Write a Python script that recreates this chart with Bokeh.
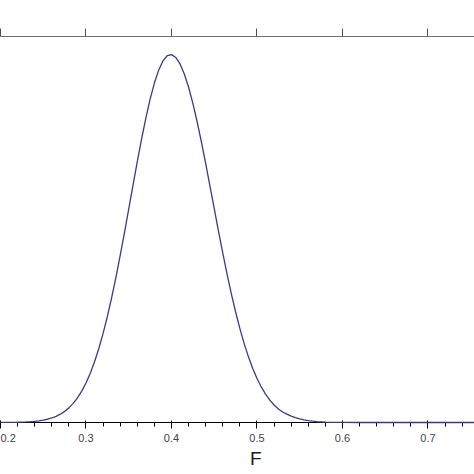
from bokeh.plotting import figure
from bokeh.models import LinearAxis, FixedTicker, Range1d, Title
from bokeh.embed import file_html
from bokeh.resources import INLINE

# values (arbitrary density units)
F_values = [0.20, 0.21, 0.22, 0.23, 0.235, 0.24, 0.245, 0.25, 0.255, 0.26,
            0.265, 0.27, 0.275, 0.28, 0.285, 0.29, 0.295, 0.30, 0.305, 0.31,
            0.315, 0.32, 0.325, 0.33, 0.335, 0.34, 0.345, 0.35, 0.355, 0.36,
            0.365, 0.37, 0.375, 0.38, 0.385, 0.39, 0.395, 0.40, 0.405, 0.41,
            0.415, 0.42, 0.425, 0.43, 0.435, 0.44, 0.445, 0.45, 0.455, 0.46,
            0.465, 0.47, 0.475, 0.48, 0.485, 0.49, 0.495, 0.50, 0.505, 0.51,
            0.515, 0.52, 0.525, 0.53, 0.535, 0.54, 0.545, 0.55, 0.555, 0.56,
            0.565, 0.57, 0.58, 0.59, 0.60, 0.62, 0.65, 0.70, 0.76]
density = [0.001, 0.0025, 0.006, 0.013, 0.019, 0.027, 0.039, 0.055, 0.076, 0.105,
           0.144, 0.194, 0.259, 0.341, 0.445, 0.574, 0.732, 0.922, 1.150, 1.416,
           1.725, 2.077, 2.472, 2.909, 3.386, 3.894, 4.429, 4.979, 5.535, 6.082,
           6.609, 7.099, 7.538, 7.914, 8.215, 8.430, 8.552, 8.577, 8.512, 8.360,
           8.126, 7.817, 7.442, 7.012, 6.540, 6.036, 5.513, 4.984, 4.459, 3.949,
           3.460, 3.001, 2.576, 2.189, 1.840, 1.531, 1.261, 1.027, 0.829, 0.662,
           0.523, 0.409, 0.316, 0.245, 0.195, 0.150, 0.115, 0.085, 0.062, 0.045,
           0.032, 0.022, 0.010, 0.004, 0.002, 0.0, 0.0, 0.0, 0.0]
x_ticks = [0.2, 0.3, 0.4, 0.5, 0.6, 0.7, 0.8]
x_label = "F"

p = figure(width=474, height=474, output_backend="svg", toolbar_location=None,
           x_range=Range1d(0.2, 0.754386), y_range=Range1d(0, 9),
           y_axis_location=None, x_axis_location="below",
           min_border_left=0, min_border_right=0,
           min_border_top=36, min_border_bottom=52)
p.outline_line_color = None
p.xgrid.visible = False
p.ygrid.visible = False
p.background_fill_color = "white"
p.border_fill_color = "white"

top = LinearAxis()
p.add_layout(top, "above")

for ax in (p.xaxis[0], top):
    ax.ticker = FixedTicker(ticks=x_ticks)
    ax.axis_line_color = "#707070"
    ax.axis_line_width = 1
    ax.major_tick_line_color = "#505050"
    ax.major_tick_in = 0
    ax.major_tick_out = 8
    ax.minor_tick_line_color = None
    ax.major_label_text_font = "Liberation Sans"
    ax.major_label_text_font_size = "12px"
    ax.major_label_text_color = "#4a4a4a"
    ax.major_label_standoff = 5

top.major_label_text_font_size = "0px"
top.major_label_text_color = None

r = p.line(F_values, density, line_color="#3a3a8c", line_width=1.3)
r.level = "overlay"

t = Title(text=x_label, align="left", offset=249.5, standoff=2,
          text_font="Liberation Sans", text_font_size="19px",
          text_font_style="normal", text_color="#1a1a1a")
p.add_layout(t, "below")

open("out.html", "w").write(file_html(p, INLINE))
